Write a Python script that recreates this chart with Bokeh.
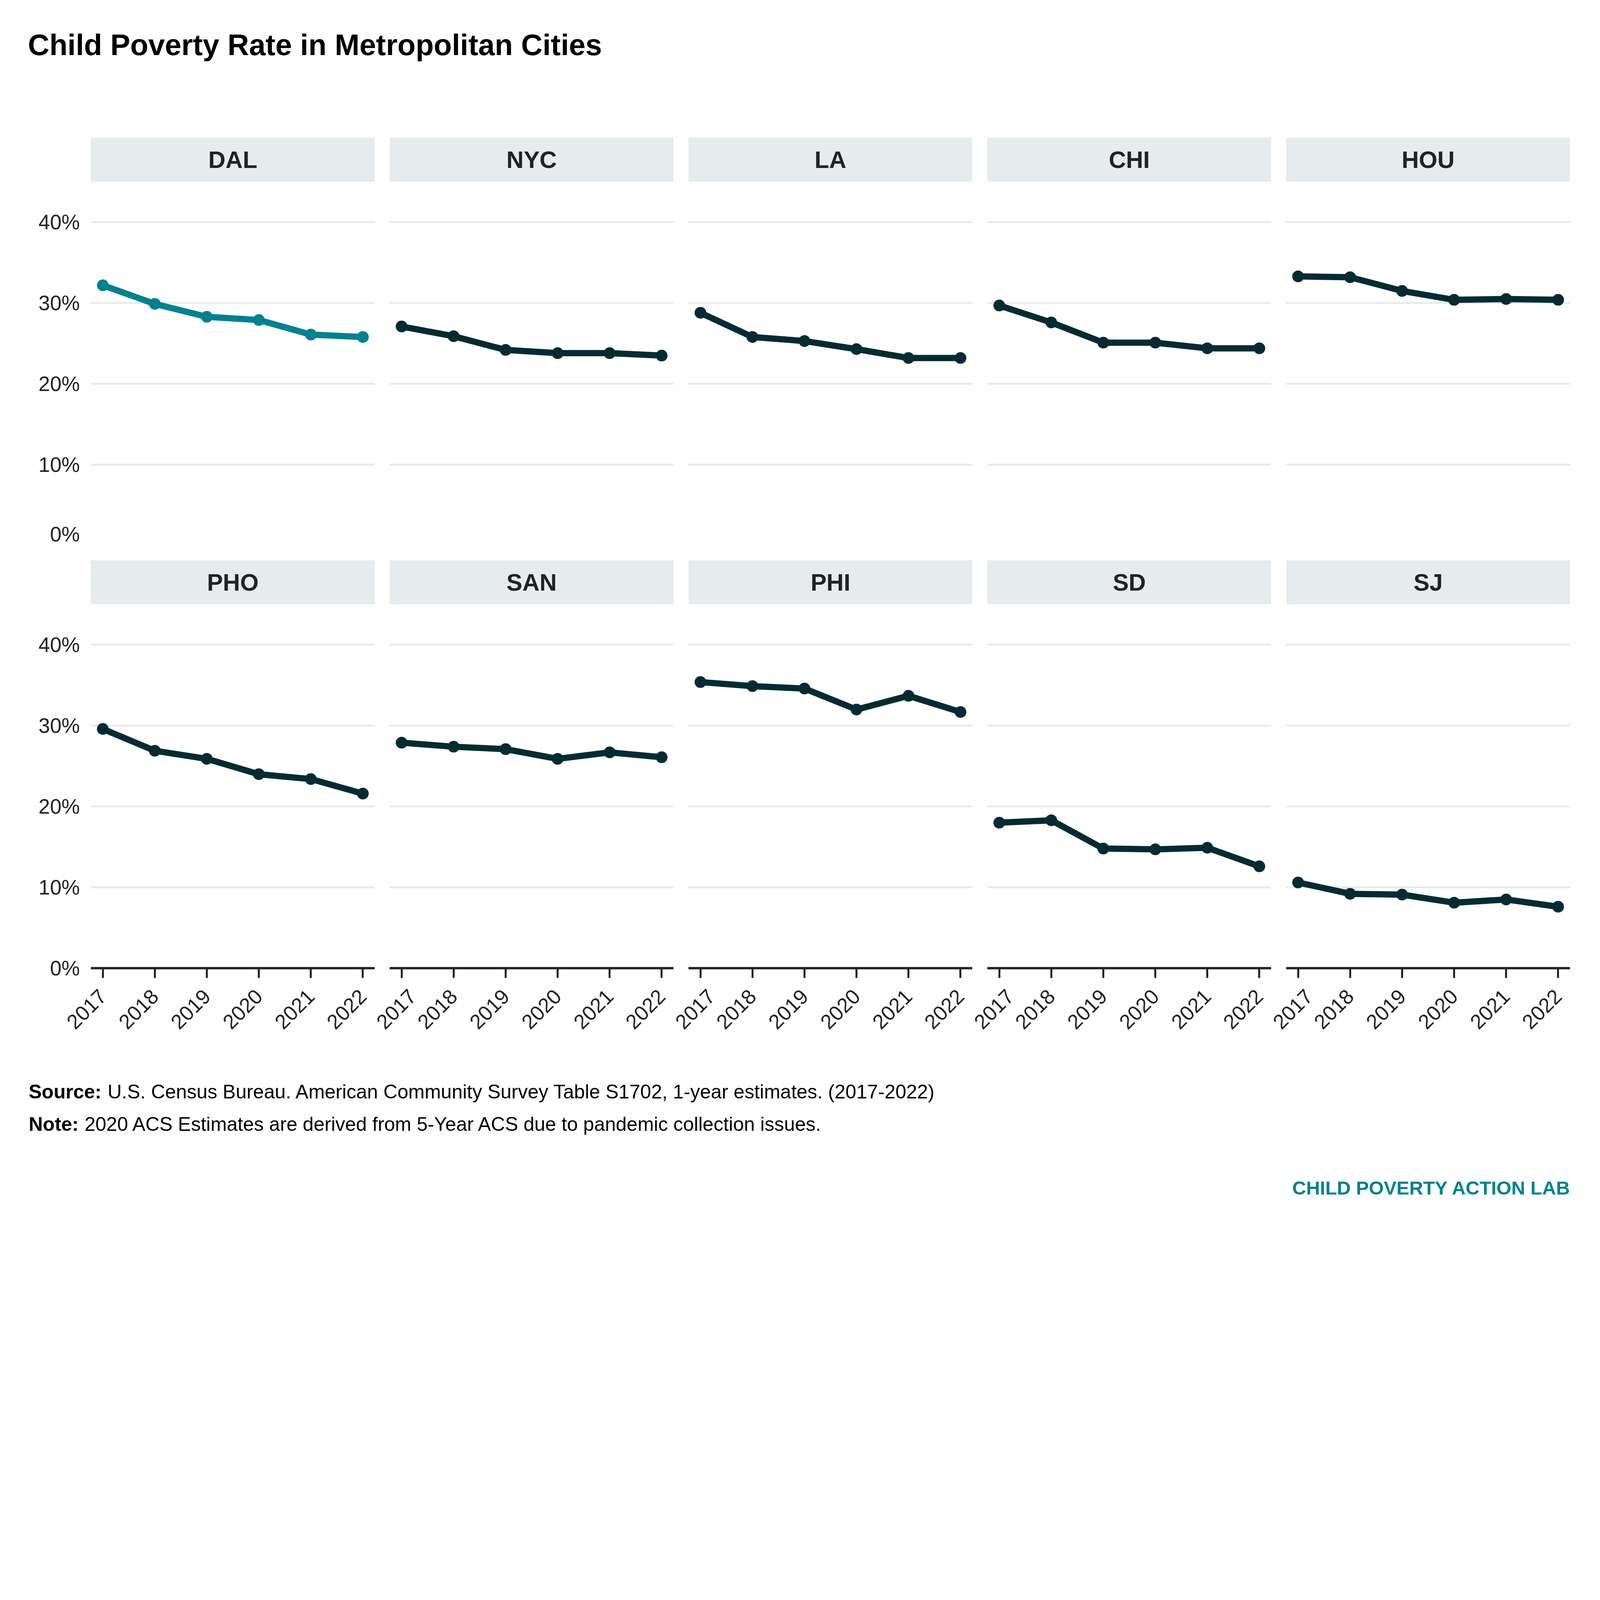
import math
from bokeh.plotting import figure
from bokeh.layouts import column, row
from bokeh.models import Range1d, FixedTicker, NumeralTickFormatter, Spacer
from bokeh.core.properties import value
from bokeh.embed import file_html
from bokeh.resources import INLINE

# ---------------- data ----------------
years = [2017, 2018, 2019, 2020, 2021, 2022]
cities = ["DAL", "NYC", "LA", "CHI", "HOU", "PHO", "SAN", "PHI", "SD", "SJ"]
DAL = [32.2, 29.9, 28.3, 27.9, 26.1, 25.8]
NYC = [27.1, 25.9, 24.2, 23.8, 23.8, 23.5]
LA = [28.8, 25.8, 25.3, 24.3, 23.2, 23.2]
CHI = [29.7, 27.6, 25.1, 25.1, 24.4, 24.4]
HOU = [33.3, 33.2, 31.5, 30.4, 30.5, 30.4]
PHO = [29.6, 26.9, 25.9, 24.0, 23.4, 21.6]
SAN = [27.9, 27.4, 27.1, 25.9, 26.7, 26.1]
PHI = [35.4, 34.9, 34.6, 32.0, 33.7, 31.7]
SD = [18.0, 18.3, 14.8, 14.7, 14.9, 12.6]
SJ = [10.6, 9.2, 9.1, 8.1, 8.5, 7.6]
y_ticks = [0, 10, 20, 30, 40]
highlight = "DAL"

title_text = "Child Poverty Rate in Metropolitan Cities"
source_label = "Source:"
source_text = "U.S. Census Bureau. American Community Survey Table S1702, 1-year estimates. (2017-2022)"
note_label = "Note:"
note_text = "2020 ACS Estimates are derived from 5-Year ACS due to pandemic collection issues."
brand_text = "CHILD POVERTY ACTION LAB"

series = dict(DAL=DAL, NYC=NYC, LA=LA, CHI=CHI, HOU=HOU,
              PHO=PHO, SAN=SAN, PHI=PHI, SD=SD, SJ=SJ)

# ---------------- style (CSS px) ----------------
FONT = "Liberation Sans"
TEAL = "#00818F"
DARK = "#042B33"
STRIP = "#E6EBEE"
TXT = "#222222"
W = 4080
FRAME_W = 727
STRIP_H = 113
PANEL_H = 931
GAP = 38
FIRST_LEFT = 232
AXIS_BOTTOM = 197
HEADER_H = 352
FOOTER_H = 488


def canvas(width, height, **kw):
    p = figure(width=width, height=height, output_backend="svg", toolbar_location=None,
               x_axis_location=None, y_axis_location=None, outline_line_color=None,
               border_fill_color="white", **kw)
    p.xgrid.visible = False
    p.ygrid.visible = False
    return p


def header():
    h = canvas(W, HEADER_H, x_range=Range1d(0, W), y_range=Range1d(0, HEADER_H), min_border=0)
    h.text(x=[71], y=[HEADER_H - 114], text=[title_text], text_align="left", text_baseline="alphabetic",
           text_font=value(FONT), text_font_style="bold", text_font_size="76px", text_color="#000000")
    return h


def footer():
    f = canvas(W, FOOTER_H, x_range=Range1d(0, W), y_range=Range1d(0, FOOTER_H), min_border=0)
    f.text(x=[73], y=[FOOTER_H - 119], text=[source_label], text_align="left", text_baseline="alphabetic",
           text_font=value(FONT), text_font_size="50px", text_color="#000000", text_font_style="bold")
    f.text(x=[275], y=[FOOTER_H - 119], text=[source_text], text_align="left", text_baseline="alphabetic",
           text_font=value(FONT), text_font_size="50px", text_color="#000000")
    f.text(x=[73], y=[FOOTER_H - 202], text=[note_label], text_align="left", text_baseline="alphabetic",
           text_font=value(FONT), text_font_size="50px", text_color="#000000", text_font_style="bold")
    f.text(x=[216], y=[FOOTER_H - 202], text=[note_text], text_align="left", text_baseline="alphabetic",
           text_font=value(FONT), text_font_size="50px", text_color="#000000")
    f.text(x=[4021], y=[FOOTER_H - 365], text=[brand_text], text_align="right", text_baseline="alphabetic",
           text_font=value(FONT), text_font_style="bold", text_font_size="49px", text_color=TEAL)
    return f


def strip(name, col):
    lb = FIRST_LEFT if col == 0 else GAP
    s = canvas(lb + FRAME_W, STRIP_H, x_range=Range1d(0, 1), y_range=Range1d(0, 1),
               min_border_left=lb, min_border_right=0, min_border_top=0, min_border_bottom=0,
               background_fill_color=STRIP)
    s.text(x=[0.5], y=[0.5], text=[name], text_align="center", text_baseline="middle",
           text_font=value(FONT), text_font_style="bold", text_font_size="61px", text_color=TXT)
    return s


def panel(name, col, r):
    lb = FIRST_LEFT if col == 0 else GAP
    bottom = AXIS_BOTTOM if r == 1 else 0
    p = figure(frame_width=FRAME_W, frame_height=PANEL_H,
               x_range=Range1d(2016.77, 2022.23), y_range=Range1d(0, 0.45),
               output_backend="svg", toolbar_location=None,
               min_border_left=lb, min_border_right=0, min_border_top=0, min_border_bottom=bottom,
               outline_line_color=None, border_fill_color="white", background_fill_color="white")
    p.xgrid.visible = False
    p.ygrid.ticker = FixedTicker(ticks=[t / 100 for t in y_ticks])
    p.ygrid.grid_line_color = STRIP
    p.ygrid.grid_line_width = 5

    ya = p.yaxis[0]
    ya.ticker = FixedTicker(ticks=[t / 100 for t in y_ticks])
    if col == 0:
        ya.formatter = NumeralTickFormatter(format="0%")
        ya.axis_line_color = None
        ya.major_tick_line_color = None
        ya.minor_tick_line_color = None
        ya.major_tick_out = 0
        ya.major_tick_in = 0
        ya.major_label_standoff = 28
        ya.major_label_text_font = FONT
        ya.major_label_text_font_size = "53px"
        ya.major_label_text_color = TXT
    else:
        ya.visible = False

    xa = p.xaxis[0]
    xa.ticker = FixedTicker(ticks=years)
    if r == 1:
        xa.axis_line_color = TXT
        xa.axis_line_width = 6
        xa.major_tick_line_color = TXT
        xa.major_tick_line_width = 5
        xa.major_tick_out = 25
        xa.major_tick_in = 0
        xa.minor_tick_line_color = None
        xa.major_label_orientation = math.pi / 4
        xa.major_label_standoff = 38
        xa.major_label_text_font = FONT
        xa.major_label_text_font_size = "53px"
        xa.major_label_text_color = TXT
    else:
        xa.visible = False

    color = TEAL if name == highlight else DARK
    ys = [v / 100 for v in series[name]]
    p.line(x=years, y=ys, line_width=16, line_color=color, line_join="round")
    p.scatter(x=years, y=ys, size=30, fill_color=color, line_color=None)
    return p


items = [header()]
for r in range(2):
    names = cities[r * 5:(r + 1) * 5]
    items.append(row([strip(n, c) for c, n in enumerate(names)], spacing=0))
    items.append(row([panel(n, c, r) for c, n in enumerate(names)], spacing=0))
    if r == 0:
        items.append(Spacer(width=W, height=GAP))
items.append(footer())

layout = column(items, spacing=0)
open("out.html", "w").write(file_html(layout, INLINE))
